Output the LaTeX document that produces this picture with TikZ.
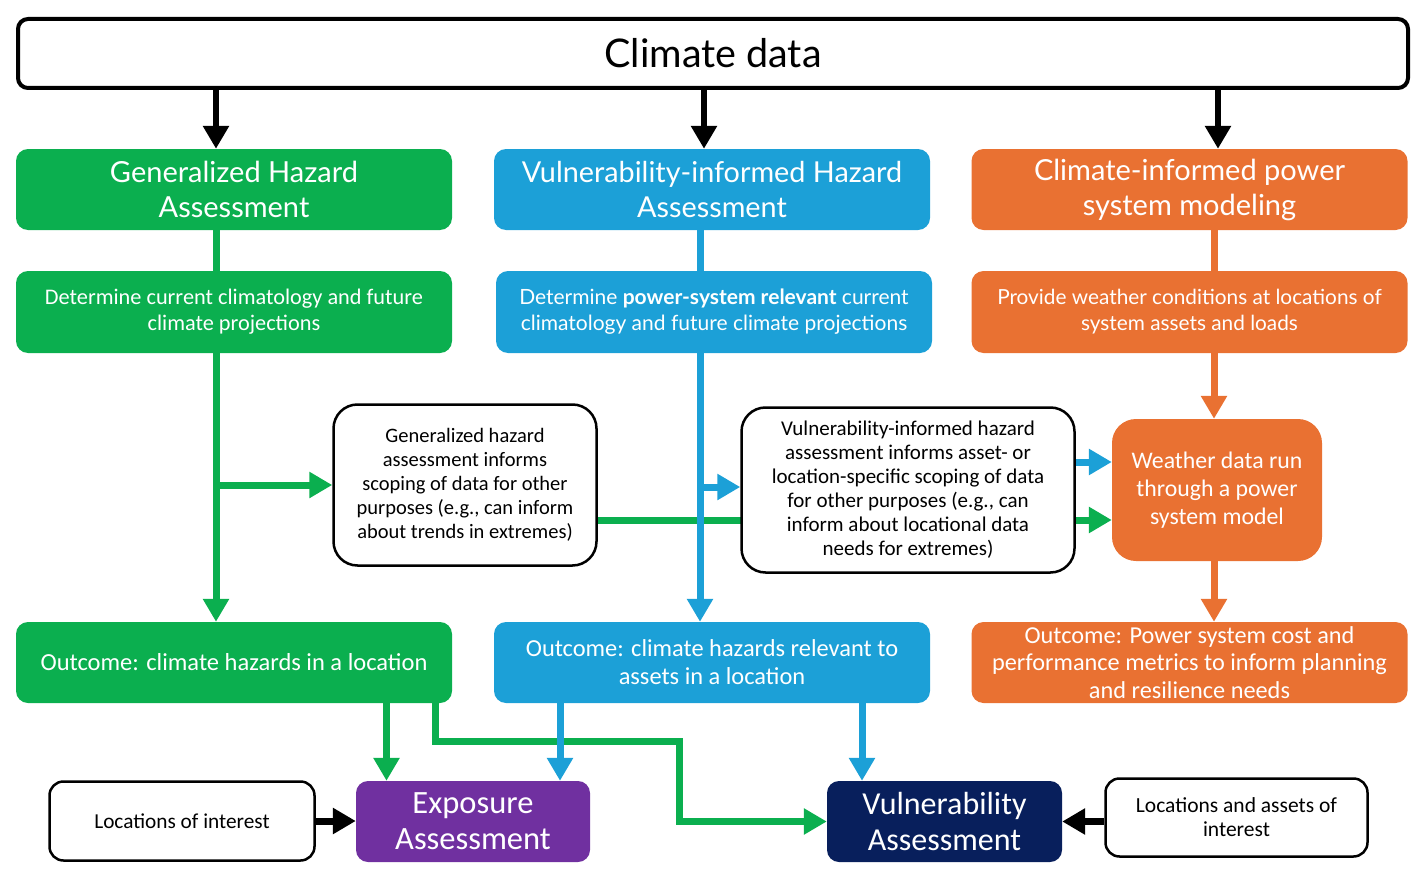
\documentclass[tikz,border=0pt]{standalone}
\usepackage{fontspec}
\setmainfont{Lato}
\newfontfamily\narrowf{Carlito}
\usetikzlibrary{arrows.meta}
\pgfdeclarelayer{bg}
\pgfsetlayers{bg,main}
\definecolor{cgreen}{HTML}{0BAF4F}
\definecolor{cblue}{HTML}{1CA0D7}
\definecolor{corange}{HTML}{E97132}
\definecolor{cpurple}{HTML}{7030A0}
\definecolor{cnavy}{HTML}{081F5C}
\begin{document}
\begin{tikzpicture}[x=1pt,y=-1pt,
  box/.style={rounded corners=12pt, text=white, align=center, inner sep=0pt, draw=none},
  wbox/.style={rounded corners=24pt, draw=black, line width=2.5pt, fill=white, align=center, inner sep=0pt},
  wide/.style={minimum width=436pt, minimum height=81pt},
  tip/.style={-{Triangle[width=25pt,length=23pt]}},
  gline/.style={draw=cgreen, line width=7pt},
  bline/.style={draw=cblue, line width=7pt},
  oline/.style={draw=corange, line width=7pt},
  kline/.style={draw=black, line width=7pt},
  fs/.style n args={2}{font=\fontsize{#1}{#2}\selectfont},
  ns/.style n args={2}{font=\narrowf\fontsize{#1}{#2}\selectfont}
]
\useasboundingbox (0,0) rectangle (1428,883);

% top
\node[draw=black, line width=4pt, rounded corners=10pt, minimum width=1390pt, minimum height=69pt, fs={39.5}{42}] (climate) at (713,53.5) {Climate data};

% row 1
\node[box, wide, fill=cgreen, fs={29}{35}] (g1) at (234,189.5) {Generalized Hazard\\Assessment};
\node[box, wide, fill=cblue, fs={28.8}{35}] (b1) at (712,189.5) {Vulnerability-informed Hazard\\Assessment};
\node[box, wide, fill=corange, fs={29}{35}] (o1) at (1189.5,189.5) {Climate-informed power\\system modeling};

% row 2
\node[box, wide, minimum height=82pt, fill=cgreen, ns={22.3}{26}] (g2) at (234,312) {Determine current climatology and future\\climate projections};
\node[box, wide, minimum height=82pt, fill=cblue, fs={21}{26}] (b2) at (714,312) {Determine \textbf{power-system relevant} current\\climatology and future climate projections};
\node[box, wide, minimum height=82pt, fill=corange, fs={20.8}{26}] (o2) at (1189.5,312) {Provide weather conditions at locations of\\system assets and loads};

% middle
\node[wbox, minimum width=263pt, minimum height=161pt, ns={20.5}{24}] (gw) at (465,485) {Generalized hazard\\assessment informs\\scoping of data for other\\purposes (e.g., can inform\\about trends in extremes)};
\node[wbox, minimum width=333pt, minimum height=165pt, ns={21}{24}] (bw) at (908,490) {Vulnerability-informed hazard\\assessment informs asset- or\\location-specific scoping of data\\for other purposes (e.g., can\\inform about locational data\\needs for extremes)};
\node[box, rounded corners=24pt, fill=corange, minimum width=210pt, minimum height=142pt, ns={23.8}{28}] (weather) at (1217,490) {Weather data run\\through a power\\system model};

% row 4
\node[box, wide, fill=cgreen, ns={24.5}{28}] (g4) at (234,662.5) {Outcome: climate hazards in a location};
\node[box, wide, fill=cblue, ns={24.4}{28}] (b4) at (712,662.5) {Outcome: climate hazards relevant to\\assets in a location};
\node[box, wide, fill=corange, ns={24.3}{27.5}] (o4) at (1189.5,662.5) {Outcome: Power system cost and\\performance metrics to inform planning\\and resilience needs};

% row 5
\node[wbox, rounded corners=14pt, minimum width=265pt, minimum height=79pt, ns={21.3}{23}] (loc) at (182,821) {Locations of interest};
\node[box, fill=cpurple, minimum width=234pt, minimum height=81pt, ns={32.5}{36}] (expo) at (473,821.5) {Exposure\\Assessment};
\node[box, fill=cnavy, minimum width=235pt, minimum height=81pt, ns={32}{36}] (vuln) at (944.5,821.5) {Vulnerability\\Assessment};
\node[wbox, rounded corners=14pt, minimum width=262pt, minimum height=78pt, ns={21.5}{24}] (locassets) at (1236.5,817.5) {Locations and assets of\\interest};

% helper coordinates
\coordinate (xg) at (216,0);
\coordinate (xb) at (700,0);
\coordinate (xk) at (704,0);
\coordinate (xo) at (1218,0);
\coordinate (xor) at (1214,0);
\coordinate (gb) at (216,485);
\coordinate (bb) at (700,487);
\coordinate (gy) at (0,520);
\coordinate (by) at (0,462);
\coordinate (ge) at (386.5,0);
\coordinate (gp1) at (435,741);
\coordinate (gp2) at (679,741);
\coordinate (be) at (560,0);
\coordinate (bv) at (862,0);

\begin{pgfonlayer}{bg}
% climate data arrows
\draw[kline, line width=6pt, tip] (climate.south -| xg) -- (g1.north -| xg);
\draw[kline, line width=6pt, tip] (climate.south -| xk) -- (b1.north -| xk);
\draw[kline, line width=6pt, tip] (climate.south -| xo) -- (o1.north -| xo);
% green column
\draw[gline] (g1.south -| xg) -- (g2.north -| xg);
\draw[gline, tip] (g2.south -| xg) -- (g4.north -| xg);
\draw[gline, tip] (gb) -- (gw.west);
\draw[gline, tip] (gw.east |- gy) -- (weather.west |- gy);
% blue column
\draw[bline] (b1.south -| xb) -- (b2.north -| xb);
\draw[bline, tip] (b2.south -| xb) -- (b4.north -| xb);
\draw[bline, tip] (bb) -- (bb -| bw.west);
\draw[bline, tip] (bw.east |- by) -- (weather.west |- by);
% orange column
\draw[oline] (o1.south -| xor) -- (o2.north -| xor);
\draw[oline, tip] (o2.south -| xor) -- (weather.north -| xor);
\draw[oline, tip] (weather.south -| xor) -- (o4.north -| xor);
% bottom
\draw[gline, tip] (g4.south -| ge) -- (expo.north -| ge);
\draw[gline, tip, line join=miter] (g4.south -| gp1) -- (gp1) -- (gp2) -- (gp2 |- vuln.west) -- (vuln.west);
\draw[bline, tip] (b4.south -| be) -- (expo.north -| be);
\draw[bline, tip] (b4.south -| bv) -- (vuln.north -| bv);
\draw[kline, tip] (loc.east) -- (loc.east -| expo.west);
\draw[kline, tip] (locassets.west |- vuln.east) -- (vuln.east);
\end{pgfonlayer}
\end{tikzpicture}
\end{document}
